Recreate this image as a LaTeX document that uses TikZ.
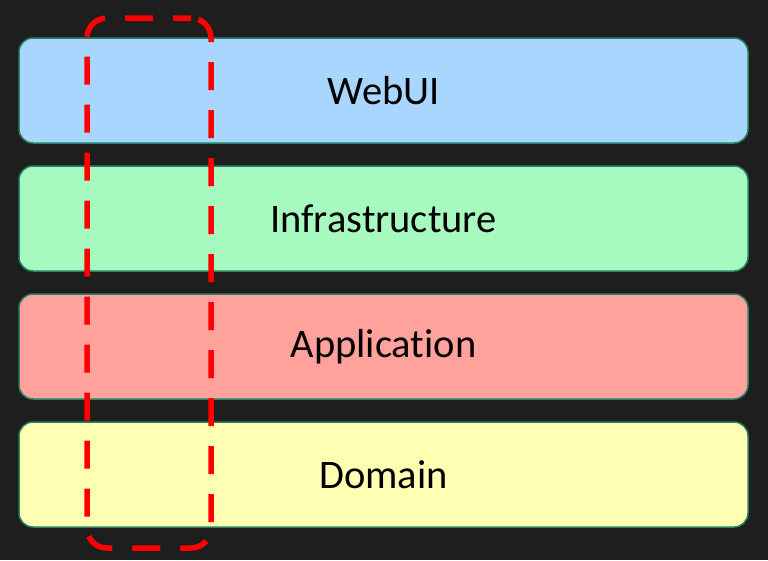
\documentclass[tikz,border=0pt]{standalone}
\usepackage{fontspec}
\setmainfont[Ligatures=NoCommon]{Carlito}
\definecolor{bgdark}{RGB}{30,30,30}
\definecolor{edgeteal}{RGB}{40,130,100}
\definecolor{webblue}{RGB}{168,214,255}
\definecolor{infragreen}{RGB}{166,250,192}
\definecolor{appred}{RGB}{255,162,156}
\definecolor{domyellow}{RGB}{255,255,180}

\begin{document}
\begin{tikzpicture}[
  x=1pt, y=-1pt,
  layer/.style={draw=edgeteal, line width=1.5pt, rounded corners=14pt,
                minimum width=729pt, minimum height=105pt, inner sep=0pt,
                font=\fontsize{40.5}{46}\selectfont},
  slice/.style={draw=red, line width=5.5pt, rounded corners=20pt,
                dash pattern=on 28pt off 20pt, dash phase=10pt,
                minimum width=124pt, minimum height=530pt, inner sep=0pt}
]

%% -- Background and fixed page size --------------------------------------------
\fill[bgdark] (0,0) rectangle (768,560);
\useasboundingbox (0,0) rectangle (768,560);

%% -- Layers (top to bottom) ----------------------------------------------------
\node[layer, fill=webblue]    (web)   at (383.5, 90.5)  {\raisebox{-2pt}{WebUI}};
\node[layer, fill=infragreen] (infra) at (383.5, 218.5) {\raisebox{-1pt}{Infrastructure}};
\node[layer, fill=appred]     (app)   at (383.5, 346.5) {\raisebox{-2pt}{Application}};
\node[layer, fill=domyellow]  (dom)   at (383.5, 474.5) {Domain};

%% -- Vertical slice across all layers ------------------------------------------
\node[slice] (feature) at (149, 283) {};

\end{tikzpicture}
\end{document}
